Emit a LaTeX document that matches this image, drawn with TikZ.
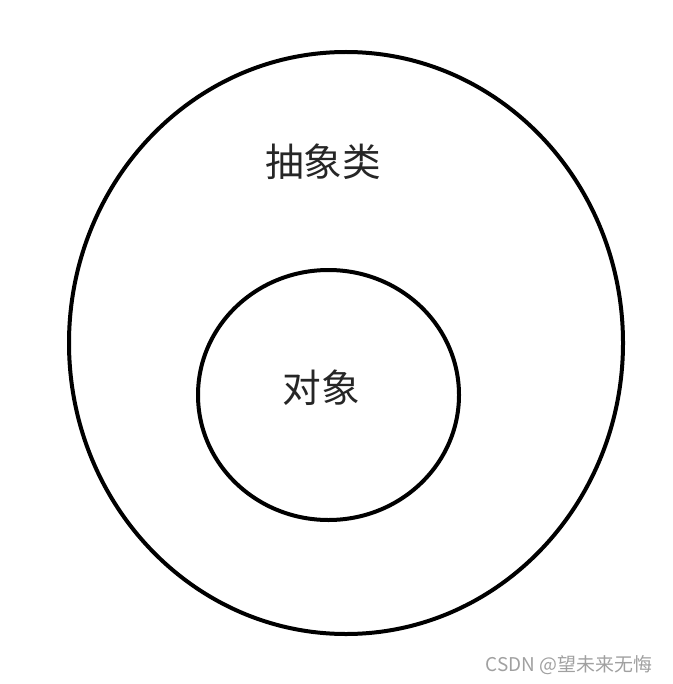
\documentclass[tikz,border=0pt]{standalone}
\usepackage{fontspec}
\newfontfamily\cjk{Noto Sans CJK SC}
\usepackage{tikz}
\usetikzlibrary{calc}
\definecolor{markgray}{RGB}{160,160,160}
\tikzstyle{ring}=[line width=3pt, draw=black]
\tikzstyle{label}=[font=\cjk\fontsize{29pt}{29pt}\selectfont, text=black!85]

\begin{document}
\begin{tikzpicture}[x=0.75pt, y=-0.75pt]
\useasboundingbox (0,0) rectangle (672,684);
\draw[ring] (346,343) ellipse (277 and 291); % outer: abstract class
\draw[ring] (328.5,395) ellipse (130.5 and 125); % inner: object
\node[label] (abstract) at (323,162) {抽象类};
\node[label] (object) at (321,388) {对象};
\node[font=\cjk\fontsize{14.2pt}{14.2pt}\selectfont, text=markgray] (mark) at (569,665) {CSDN @望未来无悔};
\end{tikzpicture}
\end{document}
